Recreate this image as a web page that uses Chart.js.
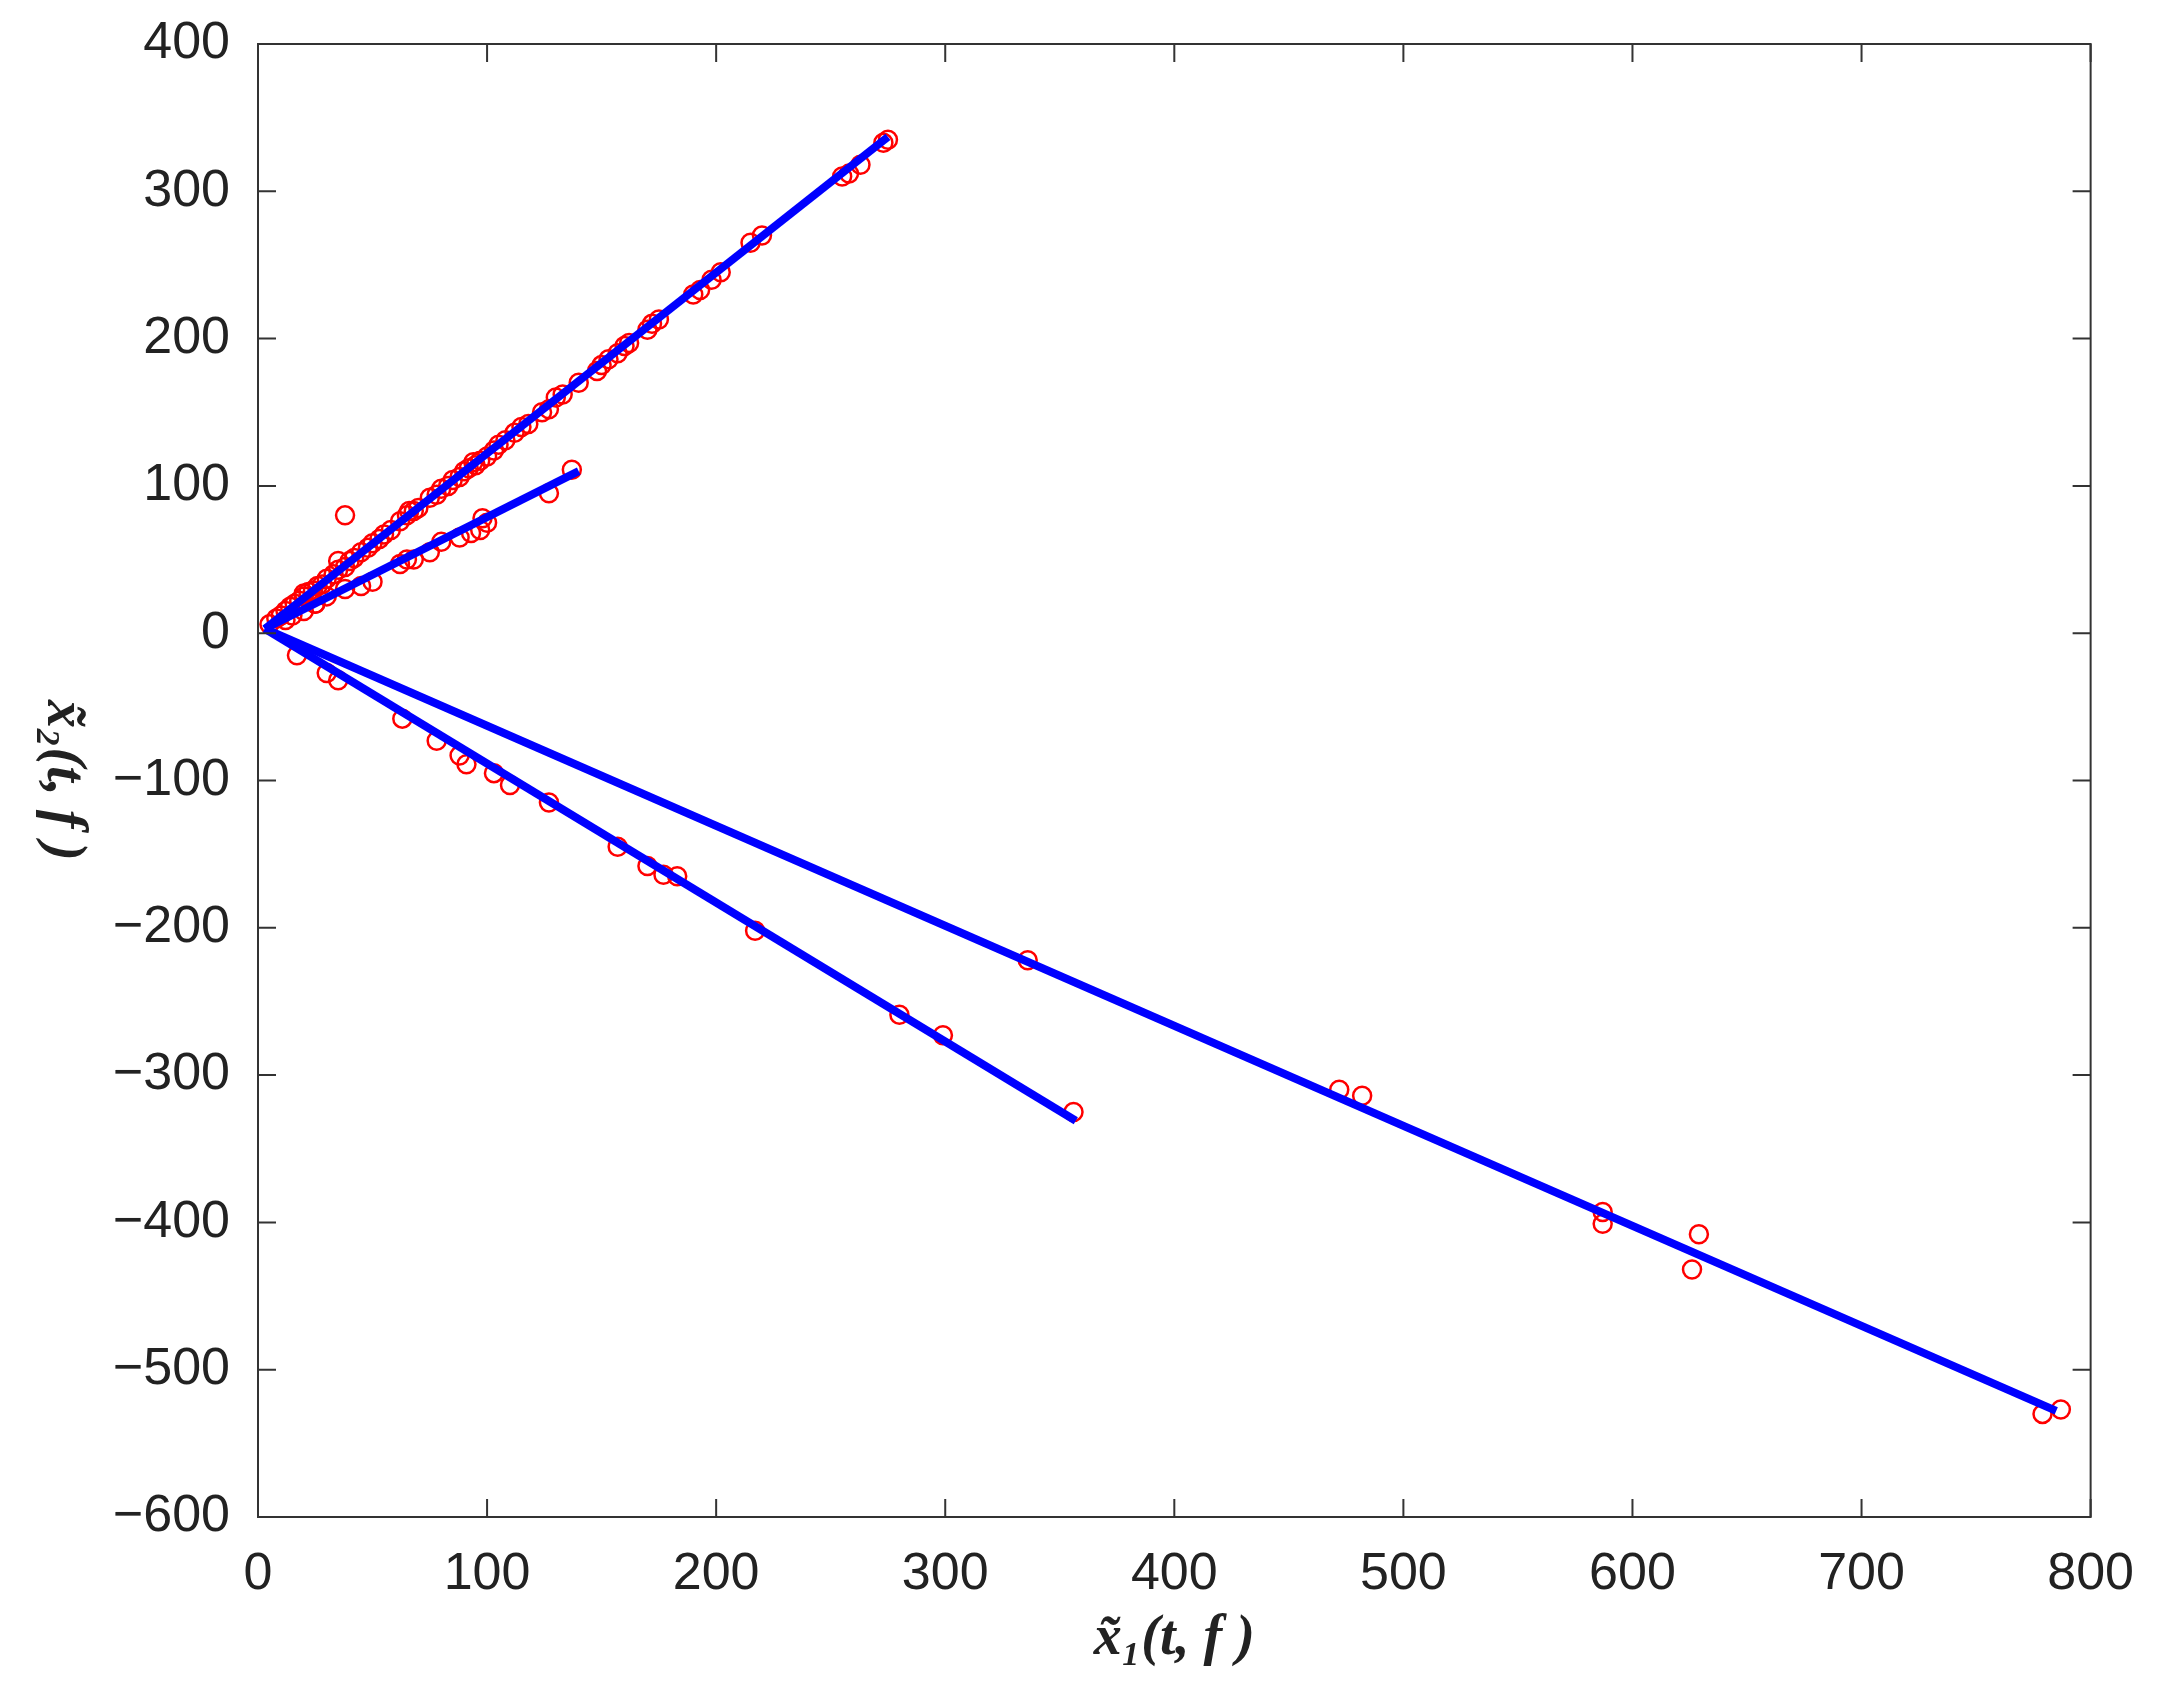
<!DOCTYPE html>
<html><head><meta charset="utf-8">
<script src="https://cdn.jsdelivr.net/npm/chart.js@4"></script>
<style>html,body{margin:0;padding:0;background:#fff}#w{width:2160px;height:1708px}</style>
</head><body><div id="w"><canvas id="c"></canvas></div>
<script>
const xTicks=[0,100,200,300,400,500,600,700,800];
const yTicks=[-600,-500,-400,-300,-200,-100,0,100,200,300,400];
const ptsAx=[5,8,10,12,14,16,18,20,22,24,26,28,30,33,35,38,40,42,45,48,50,53,55,58,62,65,66,68,70,75,78,80,83,85,88,90,92,94,95,97,100,103,105,108,112,115,118,124,127,130,133,140,148,150,153,157,160,162,170,172,175,190,193,198,202,215,220,255,258,263,273,275];
const ptsAy=[6,10,12,15,18,20,22,25,28,29,32,33,37,40,43,45,49,51,55,58,61,64,67,70,76,80,83,83,85,92,94,98,100,104,106,110,112,116,114,117,120,124,128,131,136,140,142,150,152,160,162,170,178,182,186,190,195,197,206,210,213,230,233,240,245,265,270,310,312,318,333,335];
const ptsExtraX=[38,35,20,25];
const ptsExtraY=[80,49,27,20];
const ptsBx=[12,15,20,25,30,38,45,50,62,65,68,75,80,88,93,97,100,98,127,137];
const ptsBy=[9,12,15,20,25,30,32,35,47,50,50,55,62,65,68,70,75,78,95,111];
const ptsCx=[17,30,35,63,78,88,91,103,110,127,157,170,177,183,217,280,299,356];
const ptsCy=[-15,-27,-32,-58,-73,-83,-89,-95,-103,-115,-145,-158,-164,-165,-202,-259,-273,-325];
const ptsDx=[336,472,482,587,587,626,629,779,787];
const ptsDy=[-222,-310,-314,-393,-401,-432,-408,-530,-527];
const lineA=[[3,3],[275,337]];
const lineB=[[3,3],[140,110]];
const lineC=[[3,3],[357,-331]];
const lineD=[[3,3],[785,-528]];
const zip=(a,b)=>a.map((v,i)=>({x:v,y:b[i]}));
const pts=[...zip(ptsAx,ptsAy),...zip(ptsExtraX,ptsExtraY),...zip(ptsBx,ptsBy),...zip(ptsCx,ptsCy),...zip(ptsDx,ptsDy)];
const ln=l=>({type:'line',data:l.map(p=>({x:p[0],y:p[1]})),borderColor:'#0000ff',borderWidth:8,pointRadius:0,fill:false,order:0});
const frame={id:'frame',afterDraw(ch){const c=ch.ctx,a=ch.chartArea,xs=ch.scales.x,ys=ch.scales.y;c.save();c.strokeStyle='#333';c.lineWidth=2;c.strokeRect(a.left,a.top,a.right-a.left,a.bottom-a.top);
c.beginPath();xTicks.forEach(t=>{const x=xs.getPixelForValue(t);c.moveTo(x,a.bottom);c.lineTo(x,a.bottom-18);c.moveTo(x,a.top);c.lineTo(x,a.top+18);});
yTicks.forEach(t=>{const y=ys.getPixelForValue(t);c.moveTo(a.left,y);c.lineTo(a.left+18,y);c.moveTo(a.right,y);c.lineTo(a.right-18,y);});c.stroke();
c.fillStyle='#222';c.font='italic bold 56px "Liberation Serif"';c.textBaseline='middle';
c.save();c.translate(62,(a.top+a.bottom)/2+0);c.rotate(Math.PI/2);c.textAlign='center';c.fillText('x̃₂(t, f )',0,0);c.restore();
c.textAlign='center';c.fillText('x̃₁(t, f )',(a.left+a.right)/2+0,1640);
c.restore();}};
new Chart(document.getElementById('c'),{
 data:{datasets:[ln(lineA),ln(lineB),ln(lineC),ln(lineD),
  {type:'scatter',data:pts,pointStyle:'circle',pointRadius:9,borderColor:'#ff0000',backgroundColor:'rgba(0,0,0,0)',pointBorderWidth:2.5,borderWidth:2.5,order:1}]},
 options:{responsive:true,maintainAspectRatio:false,animation:false,
  layout:{padding:{left:0,top:44,right:66,bottom:0}},
  plugins:{legend:{display:false},tooltip:{enabled:false}},
  scales:{
   x:{type:'linear',min:0,max:800,afterBuildTicks:s=>{s.ticks=xTicks.map(v=>({value:v}))},grid:{display:false,drawTicks:false},border:{display:false},
      ticks:{padding:26,color:'#222',font:{family:'Liberation Sans',size:52},callback:v=>String(v)},afterFit:s=>{s.height=191}},
   y:{type:'linear',min:-600,max:400,afterBuildTicks:s=>{s.ticks=yTicks.map(v=>({value:v}))},grid:{display:false,drawTicks:false},border:{display:false},
      ticks:{padding:28,color:'#222',font:{family:'Liberation Sans',size:52,lineHeight:0.5},callback:v=>String(v).replace('-','\u2212')},afterFit:s=>{s.width=258}}
  }},
 plugins:[frame]});
</script></body></html>
